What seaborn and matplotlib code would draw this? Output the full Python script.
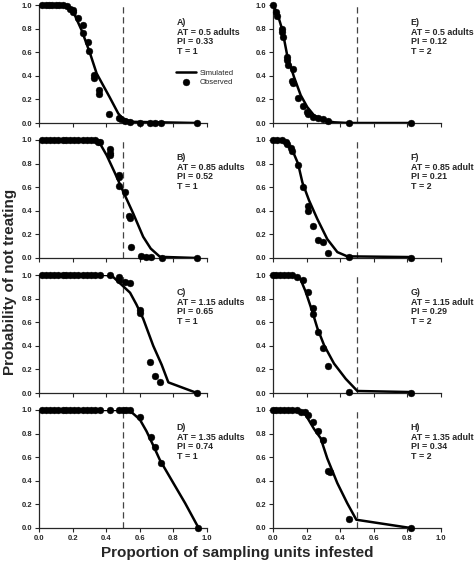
import numpy as np
import pandas as pd
import matplotlib
matplotlib.use("Agg")
import matplotlib.pyplot as plt
import seaborn as sns

sns.set_style("ticks")
plt.rcParams['font.family'] = ['Liberation Sans', 'DejaVu Sans']

# observed points (x = proportion infested, y = prob. of not treating)
obs_a_x = [0.02, 0.04, 0.06, 0.08, 0.10, 0.12, 0.14, 0.165, 0.185, 0.20, 0.205, 0.234, 0.264, 0.264,
           0.294, 0.30, 0.327, 0.329, 0.357, 0.359, 0.417, 0.478, 0.49, 0.51, 0.54, 0.60, 0.66, 0.69, 0.726, 0.94]
obs_a_y = [1.0, 1.0, 1.0, 1.0, 1.0, 1.0, 1.0, 0.99, 0.97, 0.96, 0.94, 0.89, 0.83, 0.76,
           0.69, 0.61, 0.41, 0.38, 0.28, 0.25, 0.08, 0.04, 0.03, 0.02, 0.01, 0.0, 0.0, 0.0, 0.0, 0.0]
obs_b_x = [0.02, 0.04, 0.065, 0.09, 0.115, 0.14, 0.16, 0.185, 0.21, 0.235, 0.26, 0.285, 0.31, 0.333,
           0.353, 0.363, 0.42, 0.42, 0.42, 0.478, 0.478, 0.478, 0.512, 0.538, 0.542, 0.548,
           0.607, 0.637, 0.665, 0.73, 0.94]
obs_b_y = [1.0, 1.0, 1.0, 1.0, 1.0, 1.0, 1.0, 1.0, 1.0, 1.0, 1.0, 1.0, 1.0, 1.0,
           0.985, 0.98, 0.92, 0.89, 0.87, 0.70, 0.69, 0.61, 0.56, 0.36, 0.34, 0.09,
           0.02, 0.01, 0.01, 0.0, 0.0]
obs_c_x = [0.02, 0.04, 0.065, 0.09, 0.115, 0.14, 0.16, 0.185, 0.21, 0.235, 0.26, 0.285, 0.31, 0.335,
           0.363, 0.42, 0.478, 0.478, 0.512, 0.542, 0.601, 0.601, 0.66, 0.69, 0.72, 0.94]
obs_c_y = [1.0, 1.0, 1.0, 1.0, 1.0, 1.0, 1.0, 1.0, 1.0, 1.0, 1.0, 1.0, 1.0, 1.0,
           1.0, 1.0, 0.985, 0.96, 0.94, 0.93, 0.70, 0.68, 0.26, 0.14, 0.09, 0.0]
obs_d_x = [0.02, 0.04, 0.065, 0.09, 0.115, 0.14, 0.16, 0.185, 0.21, 0.235, 0.26, 0.285, 0.31, 0.335,
           0.363, 0.42, 0.478, 0.50, 0.52, 0.54, 0.60, 0.665, 0.69, 0.724, 0.944]
obs_d_y = [1.0, 1.0, 1.0, 1.0, 1.0, 1.0, 1.0, 1.0, 1.0, 1.0, 1.0, 1.0, 1.0, 1.0,
           1.0, 1.0, 1.0, 1.0, 1.0, 1.0, 0.94, 0.77, 0.69, 0.55, 0.0]
obs_e_x = [0.0, 0.02, 0.026, 0.056, 0.056, 0.06, 0.085, 0.085, 0.089, 0.12, 0.115, 0.119, 0.149,
           0.179, 0.204, 0.208, 0.238, 0.268, 0.298, 0.327, 0.452, 0.82]
obs_e_y = [1.0, 0.94, 0.91, 0.80, 0.77, 0.73, 0.56, 0.53, 0.49, 0.46, 0.36, 0.34, 0.21,
           0.14, 0.09, 0.08, 0.05, 0.045, 0.035, 0.02, 0.0, 0.0]
obs_f_x = [0.0, 0.022, 0.056, 0.075, 0.085, 0.11, 0.115, 0.149, 0.179, 0.208, 0.208, 0.24,
           0.27, 0.30, 0.33, 0.452, 0.82]
obs_f_y = [1.0, 1.0, 1.0, 0.985, 0.97, 0.93, 0.91, 0.79, 0.60, 0.44, 0.40, 0.27,
           0.15, 0.136, 0.04, 0.01, 0.0]
obs_g_x = [0.0, 0.016, 0.04, 0.065, 0.09, 0.115, 0.145, 0.179, 0.208, 0.238, 0.24, 0.268,
           0.30, 0.33, 0.452, 0.82]
obs_g_y = [1.0, 1.0, 1.0, 1.0, 1.0, 1.0, 0.985, 0.96, 0.86, 0.72, 0.67, 0.52,
           0.38, 0.23, 0.01, 0.0]
obs_h_x = [0.0, 0.016, 0.04, 0.065, 0.09, 0.115, 0.14, 0.165, 0.188, 0.208, 0.24, 0.268,
           0.298, 0.327, 0.337, 0.452, 0.82]
obs_h_y = [1.0, 1.0, 1.0, 1.0, 1.0, 1.0, 1.0, 0.985, 0.98, 0.96, 0.90, 0.82,
           0.745, 0.48, 0.475, 0.075, 0.0]

# simulated curves
sim_a_x = [0.0, 0.165, 0.20, 0.254, 0.304, 0.343, 0.393, 0.42, 0.472, 0.50, 0.56, 0.94]
sim_a_y = [1.0, 1.0, 0.955, 0.785, 0.59, 0.42, 0.29, 0.22, 0.08, 0.035, 0.01, 0.0]
sim_b_x = [0.0, 0.333, 0.363, 0.403, 0.452, 0.502, 0.56, 0.62, 0.665, 0.72, 0.94]
sim_b_y = [1.0, 1.0, 0.97, 0.87, 0.72, 0.56, 0.38, 0.18, 0.08, 0.01, 0.0]
sim_c_x = [0.0, 0.40, 0.44, 0.482, 0.542, 0.58, 0.62, 0.68, 0.73, 0.77, 0.94]
sim_c_y = [1.0, 1.0, 0.985, 0.93, 0.85, 0.75, 0.63, 0.40, 0.24, 0.09, 0.0]
sim_d_x = [0.0, 0.53, 0.56, 0.60, 0.64, 0.68, 0.72, 0.80, 0.87, 0.95]
sim_d_y = [1.0, 1.0, 0.97, 0.92, 0.82, 0.70, 0.575, 0.38, 0.21, 0.0]
sim_e_x = [0.0, 0.026, 0.056, 0.085, 0.125, 0.165, 0.204, 0.244, 0.304, 0.363, 0.45, 0.82]
sim_e_y = [1.0, 0.93, 0.785, 0.57, 0.39, 0.235, 0.135, 0.065, 0.023, 0.006, 0.0, 0.0]
sim_f_x = [0.0, 0.065, 0.115, 0.149, 0.175, 0.214, 0.264, 0.323, 0.383, 0.442, 0.82]
sim_f_y = [1.0, 0.985, 0.915, 0.80, 0.64, 0.49, 0.33, 0.16, 0.05, 0.014, 0.008]
sim_g_x = [0.0, 0.14, 0.165, 0.194, 0.234, 0.264, 0.304, 0.363, 0.433, 0.502, 0.82]
sim_g_y = [1.0, 1.0, 0.96, 0.86, 0.69, 0.55, 0.405, 0.25, 0.12, 0.017, 0.008]
sim_h_x = [0.0, 0.16, 0.194, 0.244, 0.284, 0.323, 0.383, 0.442, 0.496, 0.82]
sim_h_y = [1.0, 1.0, 0.96, 0.84, 0.76, 0.59, 0.38, 0.21, 0.07, 0.0]

panel_text = [
    "A)\nAT = 0.5 adults\nPI = 0.33\nT = 1",
    "B)\nAT = 0.85 adults\nPI = 0.52\nT = 1",
    "C)\nAT = 1.15 adults\nPI = 0.65\nT = 1",
    "D)\nAT = 1.35 adults\nPI = 0.74\nT = 1",
    "E)\nAT = 0.5 adults\nPI = 0.12\nT = 2",
    "F)\nAT = 0.85 adults\nPI = 0.21\nT = 2",
    "G)\nAT = 1.15 adults\nPI = 0.29\nT = 2",
    "H)\nAT = 1.35 adults\nPI = 0.34\nT = 2",
]
obs_all = [(obs_a_x, obs_a_y), (obs_b_x, obs_b_y), (obs_c_x, obs_c_y), (obs_d_x, obs_d_y),
           (obs_e_x, obs_e_y), (obs_f_x, obs_f_y), (obs_g_x, obs_g_y), (obs_h_x, obs_h_y)]
sim_all = [(sim_a_x, sim_a_y), (sim_b_x, sim_b_y), (sim_c_x, sim_c_y), (sim_d_x, sim_d_y),
           (sim_e_x, sim_e_y), (sim_f_x, sim_f_y), (sim_g_x, sim_g_y), (sim_h_x, sim_h_y)]

W, H = 474, 564
fig = plt.figure(figsize=(W / 100, H / 100), dpi=100)

lefts = [39, 273]
bottoms = [123, 258, 393, 528]
aw, ah = 168, 118

for i in range(8):
    col, row = i // 4, i % 4
    ax = fig.add_axes([lefts[col] / W, 1 - bottoms[row] / H, aw / W, ah / H])
    sx, sy = sim_all[i]
    ox, oy = obs_all[i]
    ax.axvline(0.5, ymin=0, ymax=1, color="#444444", ls=(0, (5, 3)), lw=0.9)
    sns.lineplot(x=sx, y=sy, ax=ax, color="black", lw=1.8, label="Simulated" if i == 0 else None,
                 sort=False, estimator=None)
    sns.scatterplot(x=ox, y=oy, ax=ax, color="black", s=24, edgecolor="black", linewidth=0.3,
                    label="Observed" if i == 0 else None, clip_on=False, zorder=3)
    ax.set_xlim(0, 1.0)
    ax.set_ylim(0, 1.0)
    ax.set_xticks(np.arange(0, 1.01, 0.2))
    ax.set_yticks(np.arange(0, 1.01, 0.2))
    ax.yaxis.set_major_formatter(matplotlib.ticker.FormatStrFormatter("%.1f"))
    ax.xaxis.set_major_formatter(matplotlib.ticker.FormatStrFormatter("%.1f"))
    ax.tick_params(direction="out", length=3, width=0.8, labelsize=5.5, pad=2)
    for lab in ax.get_xticklabels() + ax.get_yticklabels():
        lab.set_fontweight("bold")
    if row != 3:
        ax.tick_params(labelbottom=False)
    sns.despine(ax=ax)
    for sp in ["left", "bottom"]:
        ax.spines[sp].set_linewidth(0.9)
    ax.text(0.82, 0.89, panel_text[i], transform=ax.transAxes, ha="left", va="top",
            fontsize=6.4, fontweight="bold", linespacing=1.1)
    if i == 0:
        ax.legend(loc="upper left", bbox_to_anchor=(0.80, 0.48), frameon=False, fontsize=5.5,
                  handlelength=2.6, handletextpad=0.4, labelspacing=0.3, borderaxespad=0)
    elif ax.get_legend() is not None:
        ax.get_legend().remove()

fig.text(0.022, 0.5, "Probability of not treating", rotation=90, ha="center", va="center",
         fontsize=11, fontweight="bold")
fig.text(0.5, 0.02, "Proportion of sampling units infested", ha="center", va="center",
         fontsize=11, fontweight="bold")

fig.savefig("out.png", dpi=100)
